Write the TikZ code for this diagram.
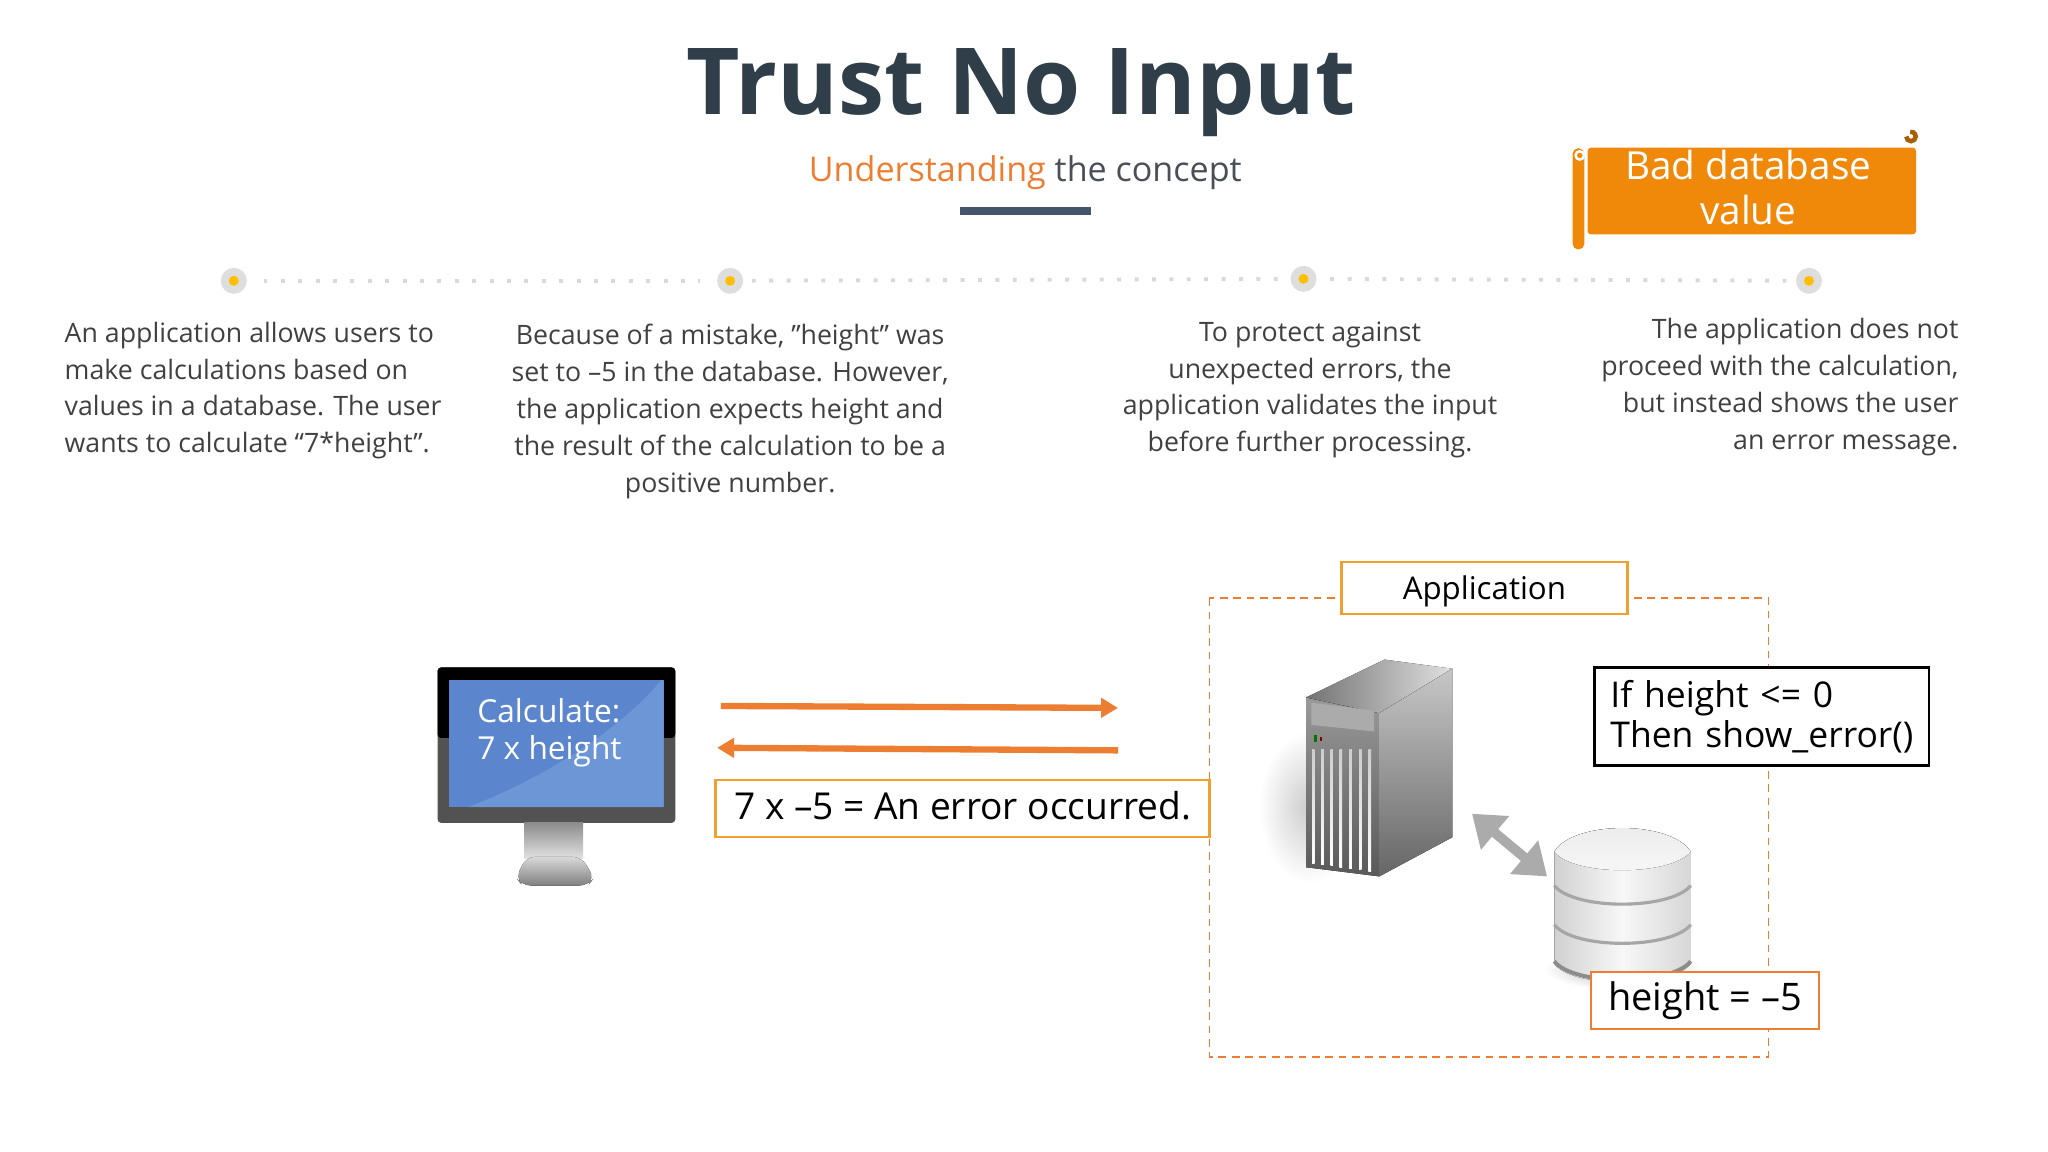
\documentclass[tikz,border=0pt]{standalone}
\usepackage{fontspec}
\setmainfont{Open Sans}
\usetikzlibrary{arrows.meta}
\definecolor{accent}{HTML}{ED7D31}
\definecolor{slate}{HTML}{2F3E48}
\definecolor{bartone}{HTML}{44546A}
\definecolor{subtone}{HTML}{4A4F57}
\definecolor{banner}{HTML}{F0890A}
\definecolor{boxline}{HTML}{F0A030}
\definecolor{screenA}{HTML}{5B86CE}
\definecolor{screenB}{HTML}{6C96D6}
\begin{document}
\begin{tikzpicture}[x=0.01306cm, y=-0.01306cm,
blurb/.style = { text = black!75, inner sep = 0, font = \fontsize{7.6}{10.5}\selectfont },
dot/.style = { circle, fill = black!13, minimum width = 0.26cm, inner sep = 0 },
core/.style = { circle, fill = orange!50!yellow, minimum width = 0.1cm, inner sep = 0 },
dotline/.style = { draw = black!15, line width = 1.1pt, dash pattern = on 0.039cm off 0.135cm },
tag/.style = { rectangle, draw = boxline, fill = white, line width = 0.7pt, text = black, inner sep = 0 },
flow/.style = { color = accent, line width = 1.8pt, -{Triangle[width = 0.19cm, length = 0.17cm]} }]
\useasboundingbox (0,0) rectangle (1568,882);
\node[text = slate, font = \fontsize{26.3}{30}\selectfont\bfseries, inner sep = 0] (title) at (782,71) {Trust No Input};
\node[text = subtone, font = \fontsize{9.7}{12}\selectfont, inner sep = 0] (sub) at (785,132) {\textcolor{accent}{Understanding} the concept};
\fill[bartone] (735,158.5) rectangle (835,164.5);

\node[dot] (d1) at (179,215) {};
\node[dot] (d2) at (559,215) {};
\node[dot] (d3) at (998,213.5) {};
\node[dot] (d4) at (1385,215) {};
\node[core] at (d1) {};
\node[core] at (d2) {};
\node[core] at (d3) {};
\node[core] at (d4) {};
\path[dotline, shorten < = 0.16cm, shorten > = 0.16cm] (d1) -- (d2);
\path[dotline, shorten < = 0.08cm, shorten > = 0.1cm] (d2) -- (d3);
\path[dotline, shorten < = 0.13cm, shorten > = 0.09cm] (d3) -- (d4);

\node[blurb, anchor = west, align = left] (t1) at (49,299) {An application allows users to\\make calculations based on\\values in a database. The user\\wants to calculate “7*height”.};
\node[blurb, align = center] (t2) at (559,315) {Because of a mistake, ”height” was\\set to –5 in the database. However,\\the application expects height and\\the result of the calculation to be a\\positive number.};
\node[blurb, align = center] (t3) at (1003,298.5) {To protect against\\unexpected errors, the\\application validates the input\\before further processing.};
\node[blurb, anchor = east, align = right] (t4) at (1500,296.5) {The application does not\\proceed with the calculation,\\but instead shows the user\\an error message.};

\fill[banner, rounded corners = 1pt] (1215.5,113) rectangle (1467,179.5);
\fill[banner, rounded corners = 1.6pt] (1204,113.5) rectangle (1213,191);
\draw[white, line width = 0.7pt] (1209.5,119) circle (3.2);
\draw[black!30!banner, line width = 1.3pt] (1459.5,104.5) arc (180:-100:3.6);
\node[text = white, align = center, font = \fontsize{11}{13}\selectfont, inner sep = 0] (bad) at (1338.5,143.5) {Bad database\\value};

% monitor
\fill[black!68, rounded corners = 1pt] (335,511) rectangle (517,630);
\fill[black, rounded corners = 1pt] (335,511) rectangle (517,565);
\fill[top color = black!45, bottom color = black!12] (401.5,630) -- (446.5,630) -- (446.5,657) -- (401.5,657) -- cycle;
\fill[top color = black!15, bottom color = black!50, rounded corners = 2.5pt] (403,656) -- (445,656) -- (455,672) -- (450,678) -- (400,678) -- (395,672) -- cycle;
\fill[screenA] (343.5,520.5) rectangle (508,618);
\fill[screenB] (506,521) .. controls (475,559) and (414,597) .. (358,618) -- (508,618) -- (508,521) -- cycle;
\node[text = white, anchor = west, align = left, font = \fontsize{9}{10.4}\selectfont, inner sep = 0] (calc) at (365,561) {Calculate:\\7 x height};

\coordinate (go1) at (552,540.5);
\coordinate (go2) at (856,542);
\coordinate (back1) at (856,574.5);
\coordinate (back2) at (549,572.5);
\draw[flow] (go1) -- (go2);
\draw[flow] (back1) -- (back2);

% application frame
\draw[accent, line width = 0.55pt, dash pattern = on 2.2pt off 1.6pt] (926,458) rectangle (1354,809);
\node[tag, minimum width = 2.86cm, minimum height = 0.52cm, text height = 6.6pt, text depth = 0pt, font = \fontsize{8.9}{12}\selectfont] (app) at (1136.5,450) {Application};
\node[tag, minimum width = 4.94cm, minimum height = 0.57cm, text height = 6pt, text depth = 0pt, font = \fontsize{10.55}{13}\selectfont] (err) at (737,619) {7 x –5 = An error occurred.};

% server
\shade[inner color = black!20, outer color = white] (1002,618) ellipse (38 and 58);
\fill[top color = black!40, bottom color = black!65] (1000,534) -- (1056,546) -- (1056,671) -- (1000,664) -- cycle;
\fill[left color = black!55, right color = black!12] (1000,534) -- (1060,505) -- (1112,512) -- (1056,546) -- cycle;
\fill[top color = black!22, bottom color = black!60] (1056,546) -- (1112,512) -- (1112,641) -- (1056,671) -- cycle;
\fill[black!33] (1004,538) -- (1052,544) -- (1052,560) -- (1004,555) -- cycle;
\fill[green!45!black] (1006,563) rectangle (1008.5,568);
\fill[red!50!black] (1011,564) rectangle (1012.5,567);
\foreach \sx/\sy in {1005.5/661, 1012.5/662, 1019.5/663, 1026.5/664, 1034/665, 1041.5/666, 1048.7/667}
  \fill[top color = black!20, bottom color = white] (\sx-1,574) rectangle (\sx+1,\sy);

% database
\shade[inner color = black!30, outer color = white] (1242,742) ellipse (60 and 16);
\fill[left color = black!18, right color = black!16, middle color = black!3] (1190,652) -- (1190,738) .. controls (1205,757) and (1279,757) .. (1294.5,738) -- (1294.5,652) .. controls (1279,628) and (1205,628) .. cycle;
\fill[top color = black!8, bottom color = black!3] (1190,652) .. controls (1205,628) and (1279,628) .. (1294.5,652) .. controls (1279,671) and (1205,671) .. cycle;
\draw[black!35, line width = 0.9pt] (1190,678) .. controls (1205,697) and (1279,697) .. (1294.5,678);
\draw[black!35, line width = 0.9pt] (1190,708) .. controls (1205,727) and (1279,727) .. (1294.5,708);
\draw[black!45, line width = 1.1pt] (1190,736) .. controls (1205,755) and (1279,755) .. (1294.5,736);

\coordinate (sv) at (1127,623);
\coordinate (db) at (1184.5,671);
\draw[black!33, line width = 2.8pt, {Triangle[width = 0.42cm, length = 0.3cm]}-{Triangle[width = 0.42cm, length = 0.3cm]}] (sv) -- (db);

\node[rectangle, draw = black, fill = white, line width = 0.7pt, text = black, anchor = north west, minimum height = 0.98cm, text width = 3.03cm, inner xsep = 0.157cm, inner ysep = 0, align = left, font = \fontsize{10.1}{11.4}\selectfont] (rule) at (1220,510) {If height <= 0\\\mbox{Then show\_error()}};
\node[tag, draw = accent, minimum width = 2.28cm, minimum height = 0.57cm, font = \fontsize{10.8}{13}\selectfont] (val) at (1305.5,766) {height = –5};
\end{tikzpicture}
\end{document}
